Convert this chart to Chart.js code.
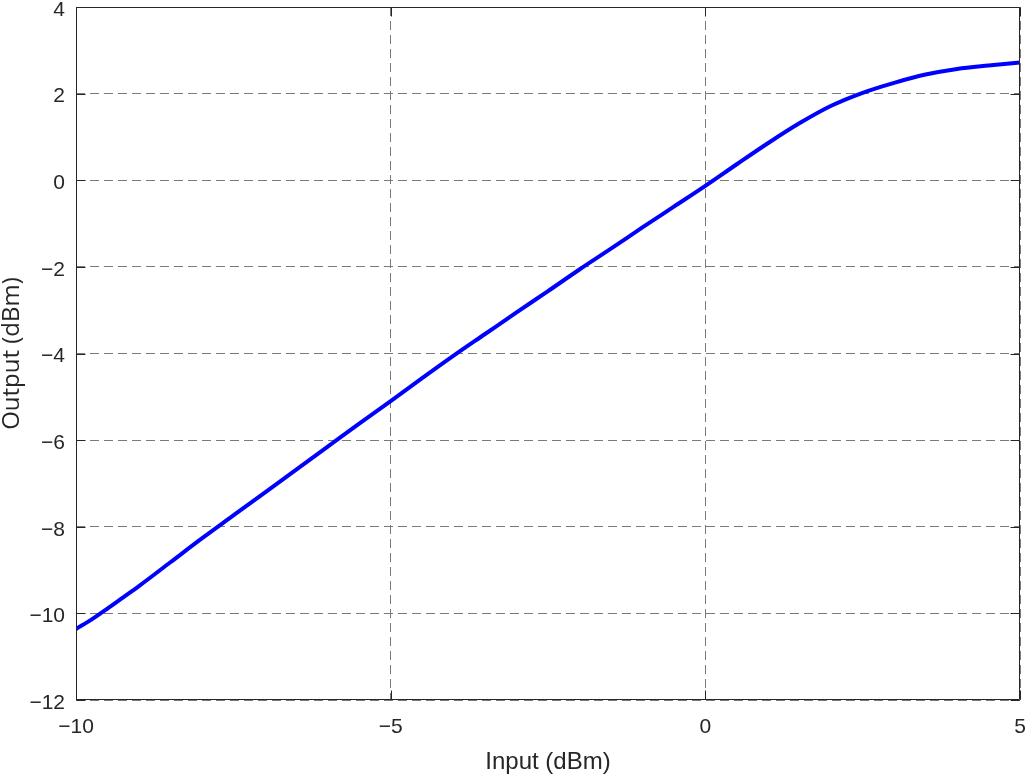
<!DOCTYPE html>
<html>
<head>
<meta charset="utf-8">
<script src="https://cdn.jsdelivr.net/npm/chart.js@4/dist/chart.umd.min.js"></script>
<style>
html,body{margin:0;padding:0;background:#fff;}
#wrap{width:1025px;height:775px;position:relative;}
</style>
</head>
<body>
<div id="wrap"><canvas id="c" width="1025" height="775"></canvas></div>
<script>
const inputDbm = [-10, -9.75, -9.5, -9.25, -9, -8.5, -8, -7.5, -7, -6.5, -6, -5.5, -5, -4.5, -4, -3.5, -3, -2.5, -2, -1.5, -1, -0.5, 0, 0.5, 1, 1.5, 2, 2.5, 3, 3.5, 4, 4.5, 5];
const outputDbm = [-10.36, -10.14, -9.89, -9.63, -9.37, -8.82, -8.27, -7.74, -7.21, -6.68, -6.15, -5.62, -5.10, -4.57, -4.05, -3.55, -3.05, -2.56, -2.06, -1.58, -1.09, -0.61, -0.13, 0.37, 0.86, 1.32, 1.72, 2.02, 2.25, 2.44, 2.57, 2.65, 2.72];
const xTicks = [-10, -5, 0, 5];
const yTicks = [-12, -10, -8, -6, -4, -2, 0, 2, 4];

const fmt = v => String(v).replace('-', '\u2212');

const boxPlugin = {
  id: 'box',
  afterDatasetsDraw(chart) {
    const {ctx, chartArea: a, scales: {x, y}} = chart;
    ctx.save();
    ctx.strokeStyle = '#262626';
    ctx.lineWidth = 1;
    ctx.setLineDash([]);
    ctx.beginPath();
    const L = Math.round(a.left) + 0.5, R = Math.round(a.right) - 0.5;
    const T = Math.round(a.top) + 0.5, B = Math.round(a.bottom) - 0.5;
    ctx.rect(L, T, R - L, B - T);
    const tl = 9;
    xTicks.forEach(v => {
      const px = Math.round(x.getPixelForValue(v)) + 0.5;
      ctx.moveTo(px, B); ctx.lineTo(px, B - tl);
      ctx.moveTo(px, T); ctx.lineTo(px, T + tl);
    });
    yTicks.forEach(v => {
      const py = Math.round(y.getPixelForValue(v)) + 0.5;
      ctx.moveTo(L, py); ctx.lineTo(L + tl, py);
      ctx.moveTo(R, py); ctx.lineTo(R - tl, py);
    });
    ctx.stroke();
    ctx.restore();
  }
};

new Chart(document.getElementById('c'), {
  type: 'line',
  data: {
    datasets: [{
      data: inputDbm.map((v, i) => ({x: v, y: outputDbm[i]})),
      borderColor: '#0000ff',
      borderWidth: 4,
      pointRadius: 0,
      fill: false,
      cubicInterpolationMode: 'monotone'
    }]
  },
  options: {
    responsive: false,
    animation: false,
    devicePixelRatio: 1,
    layout: {padding: {top: 7, right: 5, left: 0, bottom: 0}},
    plugins: {legend: {display: false}, tooltip: {enabled: false}},
    scales: {
      x: {
        type: 'linear', min: -10, max: 5,
        afterBuildTicks: s => { s.ticks = xTicks.map(v => ({value: v})); },
        afterFit: s => { s.height = 75; s.paddingLeft = 0; s.paddingRight = 0; },
        grid: {color: '#7a7a7a', lineWidth: 1, drawTicks: false},
        border: {display: false, dash: [9, 5]},
        ticks: {color: '#262626', padding: 15, maxRotation: 0, callback: fmt, font: {family: 'Liberation Sans', size: 21}},
        title: {display: true, text: 'Input (dBm)', color: '#262626', padding: {top: 0, bottom: 1}, font: {family: 'Liberation Sans', size: 24, lineHeight: 1}}
      },
      y: {
        type: 'linear', min: -12, max: 4,
        afterBuildTicks: s => { s.ticks = yTicks.map(v => ({value: v})); },
        afterFit: s => { s.width = 76; s.paddingTop = 0; s.paddingBottom = 0; },
        grid: {color: '#7a7a7a', lineWidth: 1, drawTicks: false},
        border: {display: false, dash: [9, 5]},
        ticks: {color: '#262626', padding: 11, labelOffset: 3, callback: fmt, font: {family: 'Liberation Sans', size: 21}},
        title: {display: true, text: 'Output (dBm)', color: '#262626', padding: {top: 0, bottom: 0}, font: {family: 'Open Sans', size: 24, lineHeight: 1}}
      }
    }
  },
  plugins: [boxPlugin]
});
</script>
</body>
</html>
